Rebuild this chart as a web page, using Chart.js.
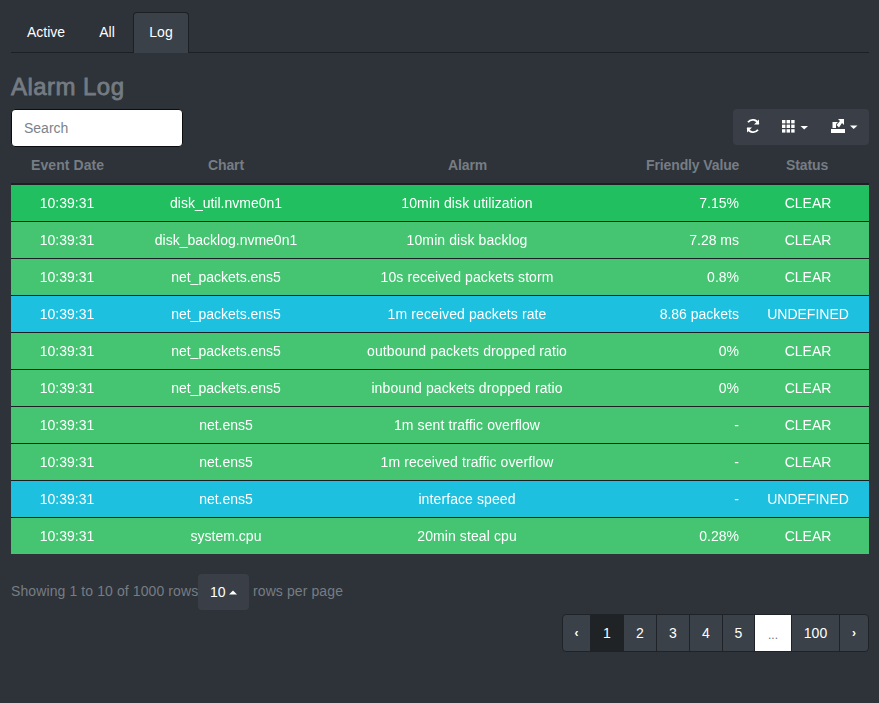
<!DOCTYPE html>
<html>
<head>
<meta charset="utf-8">
<title>Alarm Log</title>
<script src="https://cdn.jsdelivr.net/npm/chart.js"></script>
<style>
  html, body { margin: 0; padding: 0; background: #2e3239; width: 879px; height: 703px; overflow: hidden; }
  body { position: relative; font: 14px "Liberation Sans", Arial, sans-serif; color: #fff; }
  .abs { position: absolute; white-space: nowrap; }
  .tabline { left: 11px; top: 52px; width: 858px; height: 1px; background: #1c1f24; }
  .tab { top: 12px; height: 40px; line-height: 40px; text-align: center; }
  .tab.on { left: 133px; width: 54px; background: #3a4149; border: 1px solid #1c1f24; border-bottom: 0; border-radius: 4px 4px 0 0; line-height: 39px; }
  h1 { margin: 0; left: 11px; top: 73px; font-size: 24px; line-height: 28px; font-weight: 400; letter-spacing: .45px; color: #747b82; -webkit-text-stroke: .8px #747b82; }
  .search { left: 11px; top: 109px; width: 170px; height: 36px; background: #fff; border: 1px solid #0c0d0f; border-radius: 4px; color: #7b838b; line-height: 36px; text-indent: 12px; }
  .toolbar { left: 733px; top: 109px; width: 136px; height: 36px; background: #3a3f47; border-radius: 4px; }
  .th { top: 157px; line-height: 16px; font-weight: bold; letter-spacing: -.12px; color: #767d84; }
  .foot { top: 583px; line-height: 16px; letter-spacing: .1px; color: #767d84; }
  .size { left: 198px; top: 574px; width: 51px; height: 36px; background: #3a3f47; border-radius: 4px; line-height: 36px; text-indent: 12px; }
  .pager { left: 562px; top: 614px; width: 305px; height: 36px; display: flex; border: 1px solid #1f2328; border-radius: 4px; background: #3a4149; overflow: hidden; }
  .pager span { display: block; line-height: 36px; text-align: center; border-right: 1px solid #1f2328; box-sizing: border-box; }
  .pager span:last-child { border-right: 0; }
  .pager .cur { background: #1f2326; }
  .pager .gap { background: #fff; color: #6c757d; font-size: 12px; line-height: 40px; }
  .pager .arrow { font-size: 12px; font-weight: bold; }
  #alarmRows { position: absolute; left: 11px; top: 183px; }
</style>
</head>
<body>
  <div class="abs tabline"></div>
  <div class="abs tab" style="left:26px;width:40px">Active</div>
  <div class="abs tab" style="left:92px;width:30px">All</div>
  <div class="abs tab on">Log</div>
  <h1 class="abs">Alarm Log</h1>
  <div class="abs search">Search</div>

  <div class="abs toolbar"></div>
  <svg class="abs" style="left:745px;top:118px" width="16" height="16" viewBox="0 0 16 16" fill="none" stroke="#fff" stroke-width="1.8">
    <path d="M13.5 6A6 6 0 0 0 3 4.2"/><path d="M2.5 10A6 6 0 0 0 13 11.8"/>
    <path d="M14 1.5V6.5H9z" fill="#fff" stroke="none"/><path d="M2 14.5V9.5H7z" fill="#fff" stroke="none"/>
  </svg>
  <svg class="abs" style="left:782px;top:120px" width="27" height="13" viewBox="0 0 27 13" fill="#fff">
    <rect x="0" y="0" width="3.4" height="3.4"/><rect x="4.6" y="0" width="3.4" height="3.4"/><rect x="9.2" y="0" width="3.4" height="3.4"/>
    <rect x="0" y="4.6" width="3.4" height="3.4"/><rect x="4.6" y="4.6" width="3.4" height="3.4"/><rect x="9.2" y="4.6" width="3.4" height="3.4"/>
    <rect x="0" y="9.2" width="3.4" height="3.4"/><rect x="4.6" y="9.2" width="3.4" height="3.4"/><rect x="9.2" y="9.2" width="3.4" height="3.4"/>
    <path d="M18.5 6H26L22.2 9.5z"/>
  </svg>
  <svg class="abs" style="left:831px;top:118px" width="27" height="15" viewBox="0 0 27 15" fill="#fff">
    <path d="M0 11H14V15H0z"/><path d="M1.5 4H7L5 6V10H1.5z"/>
    <path d="M7 1H13V7L11 5 8 9.5 5.5 7 9 3z"/>
    <path d="M19 7.5H26.5L22.7 11z"/>
  </svg>

  <div class="abs th" style="left:31px;letter-spacing:.08px">Event Date</div>
  <div class="abs th" style="left:208px">Chart</div>
  <div class="abs th" style="left:448px">Alarm</div>
  <div class="abs th" style="left:646px">Friendly Value</div>
  <div class="abs th" style="left:786px">Status</div>

  <canvas id="alarmRows" width="858" height="372"></canvas>

  <div class="abs foot" style="left:11px">Showing 1 to 10 of 1000 rows</div>
  <div class="abs size">10</div>
  <svg class="abs" style="left:229px;top:590px" width="8" height="5" viewBox="0 0 8 5" fill="#fff"><path d="M0 4.5H8L4 .5z"/></svg>
  <div class="abs foot" style="left:253px">rows per page</div>

  <div class="abs pager">
    <span class="arrow" style="width:28px">‹</span>
    <span class="cur" style="width:33px">1</span>
    <span style="width:33px">2</span>
    <span style="width:33px">3</span>
    <span style="width:33px">4</span>
    <span style="width:32px">5</span>
    <span class="gap" style="width:37px">...</span>
    <span style="width:48px">100</span>
    <span class="arrow" style="width:28px">›</span>
  </div>

<script>
  // table contents
  const eventDates = ['10:39:31', '10:39:31', '10:39:31', '10:39:31', '10:39:31', '10:39:31', '10:39:31', '10:39:31', '10:39:31', '10:39:31'];
  const chartNames = ['disk_util.nvme0n1', 'disk_backlog.nvme0n1', 'net_packets.ens5', 'net_packets.ens5', 'net_packets.ens5', 'net_packets.ens5', 'net.ens5', 'net.ens5', 'net.ens5', 'system.cpu'];
  const alarmNames = ['10min disk utilization', '10min disk backlog', '10s received packets storm', '1m received packets rate', 'outbound packets dropped ratio', 'inbound packets dropped ratio', '1m sent traffic overflow', '1m received traffic overflow', 'interface speed', '20min steal cpu'];
  const friendlyValues = ['7.15%', '7.28 ms', '0.8%', '8.86 packets', '0%', '0%', '-', '-', '-', '0.28%'];
  const statuses = ['CLEAR', 'CLEAR', 'CLEAR', 'UNDEFINED', 'CLEAR', 'CLEAR', 'CLEAR', 'CLEAR', 'UNDEFINED', 'CLEAR'];
  const rowSpans = [1, 1, 1, 1, 1, 1, 1, 1, 1, 1];

  const COLORS = { CLEAR: '#45c572', UNDEFINED: '#1dc0df' };
  const HOVER_ROW = 0;
  const HOVER_COLOR = '#21bf5f';
  const LINE_COLOR = '#1c1f24';

  // one entry per column, x in scale units (0..1 of the table width)
  const columns = [
    { values: eventDates, x: 0.0653, align: 'center' },
    { values: chartNames, x: 0.2506, align: 'center' },
    { values: alarmNames, x: 0.5315, align: 'center', spacing: '0.1px' },
    { values: friendlyValues, x: 0.8485, align: 'right' },
    { values: statuses, x: 0.9289, align: 'center' },
  ];

  const cellText = {
    id: 'cellText',
    afterDatasetsDraw(chart) {
      const { ctx, scales: { x, y } } = chart;
      ctx.save();
      ctx.font = '14px "Liberation Sans", Arial, sans-serif';
      ctx.fillStyle = '#fff';
      ctx.textBaseline = 'middle';
      columns.forEach(col => {
        ctx.textAlign = col.align;
        ctx.letterSpacing = col.spacing || '0px';
        col.values.forEach((txt, i) => {
          ctx.fillText(txt, x.getPixelForValue(col.x), y.getPixelForValue(i) + 2);
        });
      });
      ctx.restore();
    },
  };

  new Chart(document.getElementById('alarmRows').getContext('2d'), {
    type: 'bar',
    data: {
      labels: eventDates.map((d, i) => chartNames[i] + ' / ' + alarmNames[i]),
      datasets: [{
        data: rowSpans,
        backgroundColor: statuses.map((s, i) => (i === HOVER_ROW ? HOVER_COLOR : COLORS[s])),
        barPercentage: 1,
        categoryPercentage: 1,
      }],
    },
    options: {
      indexAxis: 'y',
      responsive: false,
      animation: false,
      layout: { padding: { top: 1, bottom: 1 } },
      plugins: { legend: { display: false }, tooltip: { enabled: false } },
      scales: {
        x: { display: false, min: 0, max: 1 },
        y: {
          afterFit(s) { s.width = 0; },
          ticks: { display: false },
          border: { display: false },
          grid: {
            z: 1,
            offset: true,
            drawTicks: false,
            lineWidth: ctx => (ctx.index === 0 ? 2 : 1),
            // the closing line past the last row has no tick index
            color: ctx => (ctx.index === undefined ? 'transparent' : LINE_COLOR),
          },
        },
      },
    },
    plugins: [cellText],
  });
</script>
</body>
</html>
